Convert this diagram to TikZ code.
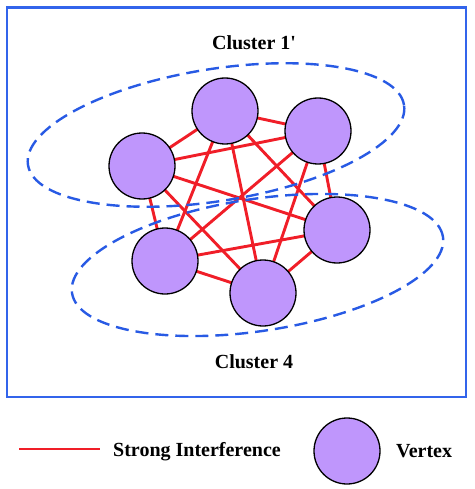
\documentclass[tikz,border=0pt]{standalone}
\usepackage{fontspec}
\setmainfont{Liberation Serif}
\usetikzlibrary{backgrounds}
\definecolor{vfill}{RGB}{191,150,252}
\definecolor{ered}{RGB}{240,30,40}
\definecolor{cblue}{RGB}{40,90,228}
\definecolor{fblue}{RGB}{50,100,235}
\tikzset{
  vert/.style={circle, draw=black, line width=1.3pt, fill=vfill, minimum size=66pt, inner sep=0pt},
  edge/.style={draw=ered, line width=2.9pt},
  clusterline/.style={draw=cblue, line width=2.4pt, dash pattern=on 13pt off 7pt},
  lbl/.style={font=\fontsize{20}{24}\selectfont\bfseries, inner sep=0pt},
}
\begin{document}
\begin{tikzpicture}[x=1pt,y=1pt]
\useasboundingbox (0,0) rectangle (474,-489);
\draw[fblue, line width=2.6pt] (7,-7.5) rectangle (466,-397);
% vertices
\node[vert] (v1) at (225,-111) {};
\node[vert] (v2) at (318,-131) {};
\node[vert] (v3) at (142,-166) {};
\node[vert] (v4) at (337,-230) {};
\node[vert] (v5) at (165,-261) {};
\node[vert] (v6) at (263,-293) {};
\begin{pgfonlayer}{background}
\foreach \a/\b in {v1/v2,v1/v3,v1/v4,v1/v5,v1/v6,v2/v3,v2/v4,v2/v5,v2/v6,v3/v4,v3/v5,v3/v6,v4/v5,v4/v6,v5/v6}
  \draw[edge] (\a.center) -- (\b.center);
\draw[clusterline, rotate around={9.07:(216,-135)}] (216,-135) ellipse (190.4pt and 66pt);
\draw[clusterline, rotate around={8.6:(257.5,-265)}] (257.5,-265) ellipse (187.6pt and 66pt);
\end{pgfonlayer}
\node[lbl, anchor=base] (c1) at (254,-50) {Cluster 1\textquotesingle};
\node[lbl, anchor=base] (c4) at (254,-368) {Cluster 4};
% legend
\coordinate (la) at (19,-449);
\coordinate (lb) at (100,-449);
\draw[edge, line width=2.5pt] (la) -- (lb);
\node[lbl, anchor=base west] (ls) at (113,-456) {Strong Interference};
\node[vert] (lv) at (347,-451) {};
\node[lbl, anchor=base west] (lvt) at (396,-457) {Vertex};
\end{tikzpicture}
\end{document}
